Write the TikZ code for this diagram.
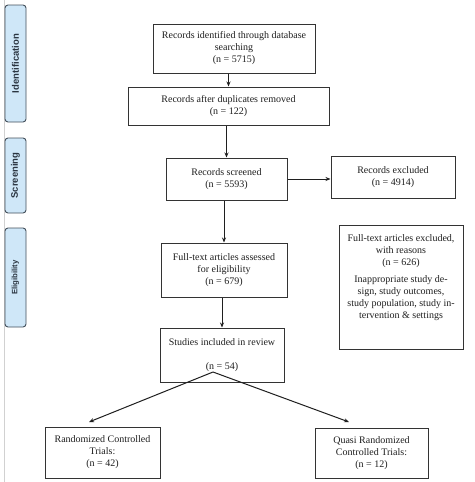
\documentclass[tikz,border=0pt]{standalone}
\usepackage{fontspec}
\setmainfont{Liberation Serif}
\newfontfamily\tabfont{Liberation Sans}
\usetikzlibrary{arrows.meta,positioning}
\definecolor{boxline}{HTML}{333333}
\definecolor{tabfill}{HTML}{CFE7F8}
\definecolor{tabline}{HTML}{44505C}
\definecolor{tabtext}{HTML}{2A3440}
\begin{document}
\begin{tikzpicture}[x=1pt,y=-1pt,
  box/.style={draw=boxline,line width=1pt,rectangle,align=center,inner sep=2pt,
    font=\fontsize{10}{12}\selectfont,text=black!88},
  tab/.style={draw=tabline,fill=tabfill,line width=0.9pt,rounded corners=3pt},
  tablabel/.style={rotate=90,text=tabtext,font=\tabfont\bfseries\fontsize{9.5}{11}\selectfont},
  arr/.style={draw=black!88,line width=1pt,-{Stealth[length=5pt,width=4pt]}}]
\useasboundingbox (0,0) rectangle (474,482);
\fill[white] (0,0) rectangle (474,482);
% faint left rule
\draw[black!18,line width=0.6pt] (4,0) -- (4,482);
% phase tabs
\draw[tab] (5,5) rectangle (26,122);
\node[tablabel] (tabid) at (15.5,63.5) {Identification};
\draw[tab] (5,138) rectangle (26,213);
\node[tablabel] (tabsc) at (15.5,175.5) {Screening};
\draw[tab] (5,228) rectangle (26,327);
\node[tablabel,font=\tabfont\bfseries\fontsize{7.8}{9}\selectfont] (tabel) at (15.5,277.5) {Eligibility};
% boxes
\node[box,minimum width=162pt,minimum height=49pt] (ident) at (234,48.5)
  {Records identified through database\\searching\\(n = 5715)};
\node[box,minimum width=201pt,minimum height=38pt] (dup) at (228.5,106)
  {Records after duplicates removed\\(n = 122)};
\node[box,minimum width=121pt,minimum height=42pt] (screen) at (226.5,179)
  {Records screened\\(n = 5593)};
\node[box,minimum width=124pt,minimum height=42pt] (excl) at (393,177)
  {Records excluded\\(n = 4914)};
\node[box,minimum width=124pt,minimum height=124pt] (ftexcl) at (401,287) {};
\node[align=center,anchor=north,font=\fontsize{10}{11.8}\selectfont,text=black!88] (ftexcltext) at (401,231)
  {Full-text articles excluded,\\with reasons\\(n = 626)\\[6pt]Inappropriate study de-\\sign, study outcomes,\\study population, study in-\\tervention \& settings};
\node[box,minimum width=126pt,minimum height=54pt] (ftass) at (224,270)
  {Full-text articles assessed\\for eligibility\\(n = 679)};
\node[box,minimum width=124pt,minimum height=54pt] (incl) at (222,355)
  {Studies included in review\\[12pt](n = 54)};
\node[box,minimum width=115pt,minimum height=51pt] (rct) at (102.5,452.5)
  {Randomized Controlled\\Trials:\\(n = 42)};
\node[box,minimum width=113pt,minimum height=50pt] (qrct) at (371.5,453)
  {Quasi Randomized\\Controlled Trials:\\(n = 12)};
% connectors
\draw[arr] (dup.north |- ident.south) -- (dup.north);
\draw[arr] (screen.north |- dup.south) -- (screen.north);
\draw[arr] (ftass.north |- screen.south) -- (ftass.north);
\draw[arr] (incl.north |- ftass.south) -- (incl.north);
\draw[arr] (screen.east) -- (excl.west |- screen.east);
\coordinate (apex) at (213,372);
\coordinate (rcttip) at (89,422);
\coordinate (qrcttip) at (349,422);
\draw[arr] (apex) -- (rcttip);
\draw[arr] (apex) -- (qrcttip);
\end{tikzpicture}
\end{document}
